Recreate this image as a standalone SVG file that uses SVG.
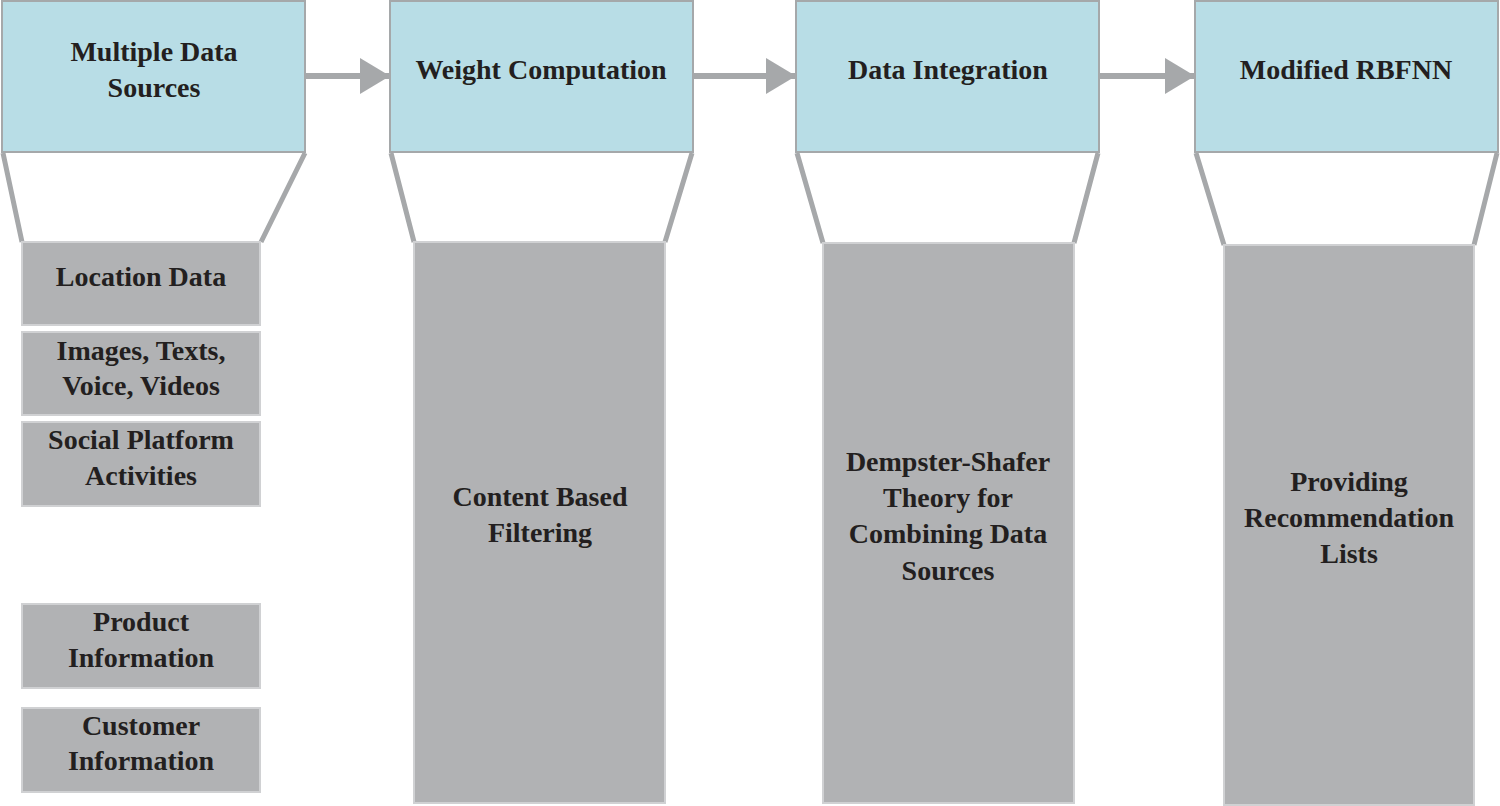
<svg xmlns="http://www.w3.org/2000/svg" width="1500" height="806" viewBox="0 0 1500 806">
<style>
.top{fill:#b8dde6;stroke:#a5a8aa;stroke-width:2}
.g{fill:#b1b2b4;stroke:#d0d1d3;stroke-width:2}
.f{stroke:#a6a8aa;stroke-width:5;fill:none}
text{font-family:"Liberation Serif",serif;font-weight:bold;font-size:28px;fill:#231f20;text-anchor:middle}
.c line{stroke:#a6a8aa;stroke-width:6}
</style>
<defs><marker id="a" markerWidth="5" markerHeight="6" refX="5" refY="3" orient="auto" markerUnits="strokeWidth"><path d="M0,0 L5,3 L0,6 z" fill="#a6a8aa"/></marker></defs>
<rect width="1500" height="806" fill="#fff"/>
<g id="n1"><rect class="top" x="2" y="1" width="303" height="151"/><text x="154" y="61">Multiple Data</text><text x="154" y="97">Sources</text></g>
<g id="n2"><rect class="top" x="390" y="1" width="303" height="151"/><text x="541" y="79">Weight Computation</text></g>
<g id="n3"><rect class="top" x="796" y="1" width="303" height="151"/><text x="948" y="79">Data Integration</text></g>
<g id="n4"><rect class="top" x="1195" y="1" width="303" height="151"/><text x="1346" y="79">Modified RBFNN</text></g>
<g id="funnels">
<path class="f" d="M3,153 L22,242 M305,153 L261,242"/>
<path class="f" d="M391,153 L414,242 M692,153 L665,242"/>
<path class="f" d="M797,153 L823,243 M1098,153 L1074,243"/>
<path class="f" d="M1196,153 L1224,245 M1497,153 L1474,245"/>
</g>
<g id="s1"><rect class="g" x="22" y="242" width="238" height="83"/><text x="141" y="286">Location Data</text></g>
<g id="s2"><rect class="g" x="22" y="332" width="238" height="83"/><text x="141" y="360">Images, Texts,</text><text x="141" y="395">Voice, Videos</text></g>
<g id="s3"><rect class="g" x="22" y="422" width="238" height="84"/><text x="141" y="449">Social Platform</text><text x="141" y="485">Activities</text></g>
<g id="s4"><rect class="g" x="22" y="604" width="238" height="84"/><text x="141" y="631">Product</text><text x="141" y="667">Information</text></g>
<g id="s5"><rect class="g" x="22" y="708" width="238" height="84"/><text x="141" y="735">Customer</text><text x="141" y="770">Information</text></g>
<g id="b2"><rect class="g" x="414" y="242" width="251" height="561"/><text x="540" y="506">Content Based</text><text x="540" y="542">Filtering</text></g>
<g id="b3"><rect class="g" x="823" y="243" width="251" height="560"/><text x="948" y="471">Dempster-Shafer</text><text x="948" y="507">Theory for</text><text x="948" y="543">Combining Data</text><text x="948" y="580">Sources</text></g>
<g id="b4"><rect class="g" x="1224" y="245" width="250" height="560"/><text x="1349" y="491">Providing</text><text x="1349" y="527">Recommendation</text><text x="1349" y="563">Lists</text></g>
<g class="c">
<line x1="306" y1="76" x2="390" y2="76" marker-end="url(#a)"/>
<line x1="694" y1="76" x2="796" y2="76" marker-end="url(#a)"/>
<line x1="1100" y1="76" x2="1195" y2="76" marker-end="url(#a)"/>
</g>
</svg>
